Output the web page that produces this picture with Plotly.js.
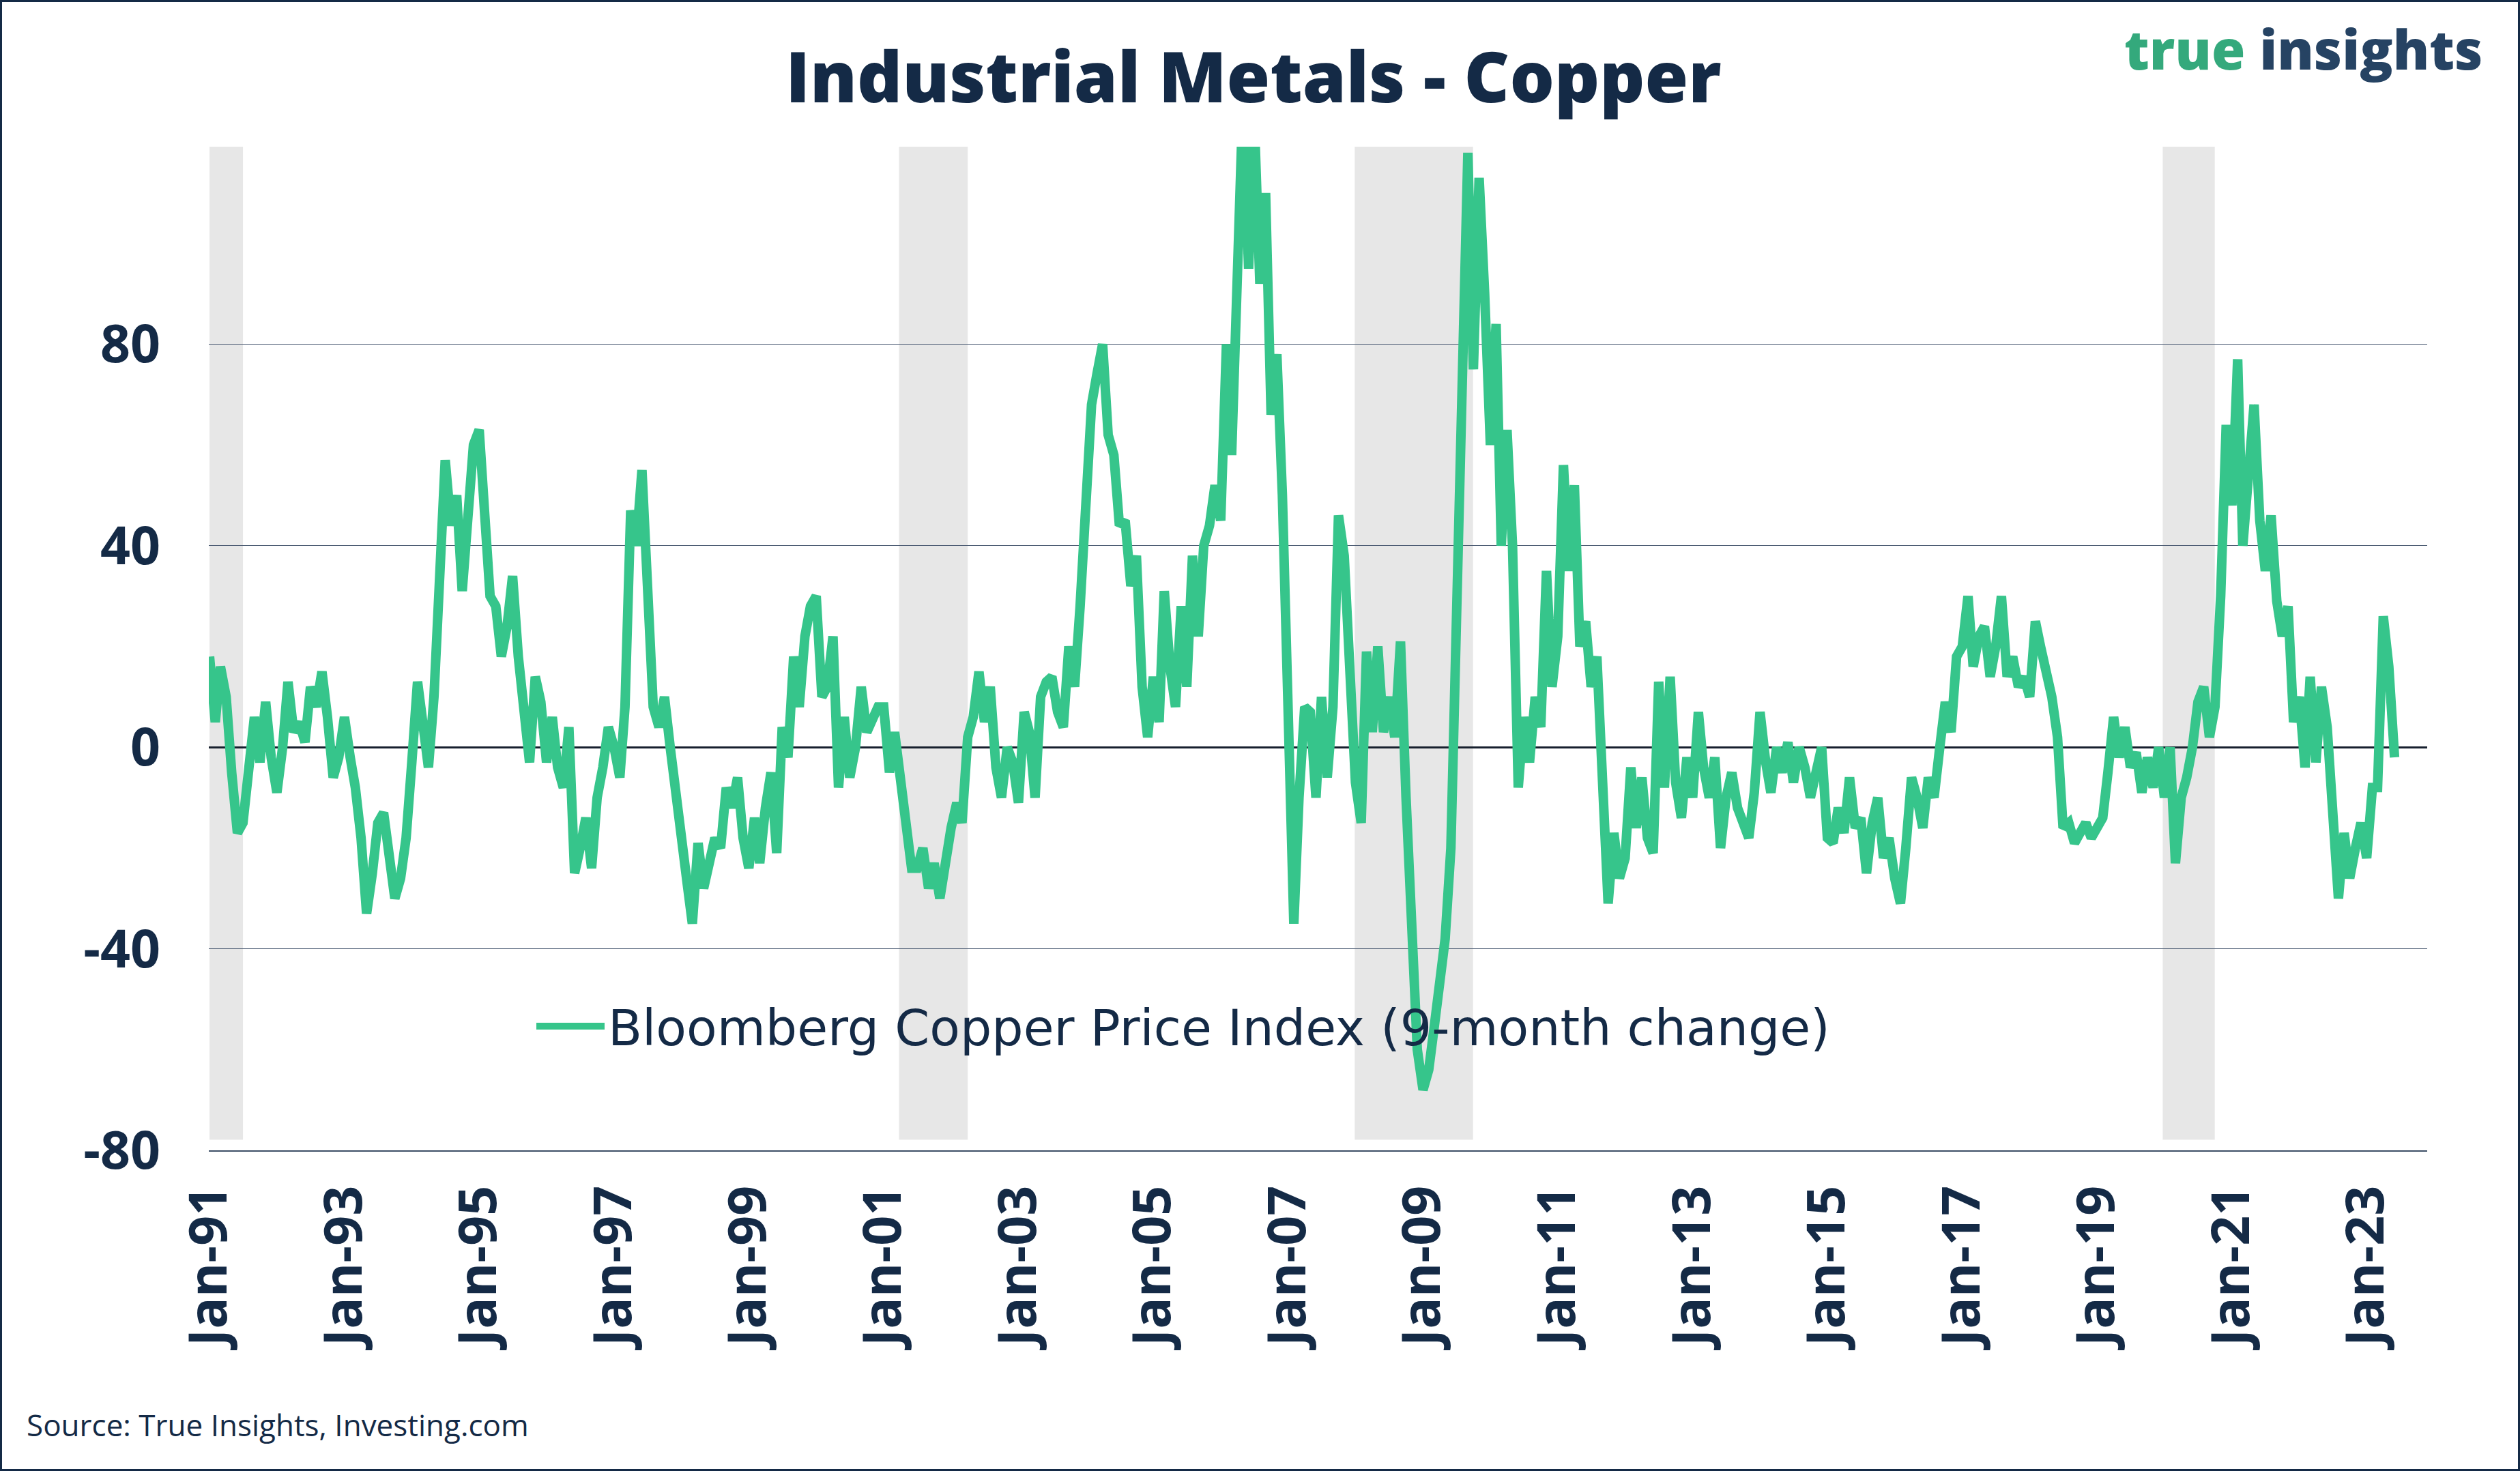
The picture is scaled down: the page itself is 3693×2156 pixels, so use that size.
<!DOCTYPE html>
<html>
<head>
<meta charset="utf-8">
<script src="https://cdn.plot.ly/plotly-3.0.1.min.js"></script>
<style>
html,body{margin:0;padding:0;background:#ffffff;}
#chart{width:3693px;height:2156px;}
</style>
</head>
<body>
<div id="chart"></div>
<script>
// Monthly readings of the 9-month % change, starting January 1991
const seriesStartYear = 1991;
const copper1991_1994 = [
  18, 5, 16, 10, -5, -17, -15, -6, 6, -3, 9, -2,
  -9, 0, 13, 3, 5, 1, 12, 8, 15, 6, -6, -2,
  6, -2, -8, -18, -33, -25, -15, -13, -22, -30, -26, -18,
  -3, 13, 5, -4, 10, 35, 57, 44, 50, 31, 47, 60
];
const copper1995_1998 = [
  63, 48, 30, 28, 18, 24, 34, 18, 8, -3, 14, 9,
  -3, 6, -4, -8, 4, -25, -20, -14, -24, -10, -4, 4,
  0, -6, 8, 47, 40, 55, 32, 8, 4, 10, 0, -10,
  -20, -27, -35, -19, -28, -22, -18, -20, -8, -12, -6, -18
];
const copper1999_2002 = [
  -24, -14, -23, -12, -5, -21, 4, -2, 18, 8, 22, 28,
  30, 10, 12, 22, -8, 6, -6, 0, 12, 3, 6, 8,
  8, -5, 3, -7, -14, -24, -24, -20, -28, -23, -30, -22,
  -16, -11, -15, 2, 6, 15, 5, 12, -4, -10, 0, -3
];
const copper2003_2006 = [
  -11, 7, 3, -10, 10, 13, 14, 7, 4, 20, 12, 28,
  52, 68, 74, 80, 62, 58, 44, 45, 32, 38, 12, 2,
  14, 5, 31, 16, 8, 28, 12, 38, 22, 40, 44, 52,
  45, 80, 58, 100, 128, 95, 126, 92, 110, 66, 78, 50
];
const copper2007_2010 = [
  5, -35, -10, 8, 7, -10, 10, -6, 8, 46, 38, 16,
  -7, -15, 19, 3, 20, 3, 10, 2, 21, -10, -40, -60,
  -68, -64, -56, -48, -38, -20, 30, 72, 118, 75, 113, 90,
  60, 84, 40, 63, 40, -8, 6, -3, 10, 4, 35, 12
];
const copper2011_2014 = [
  22, 56, 35, 52, 20, 25, 12, 18, -5, -31, -17, -26,
  -22, -4, -16, -6, -18, -21, 13, -8, 14, -7, -14, -2,
  -10, 7, -4, -10, -2, -20, -10, -5, -12, -15, -18, -9,
  7, -3, -9, 0, -5, 1, -7, 0, -4, -10, -4, 0
];
const copper2015_2018 = [
  -18, -19, -12, -17, -6, -16, -14, -25, -15, -10, -22, -18,
  -26, -31, -20, -6, -10, -16, -6, -10, 0, 9, 3, 18,
  20, 30, 16, 22, 24, 14, 20, 30, 14, 18, 12, 14,
  10, 25, 20, 15, 10, 2, -16, -15, -19, -17, -15, -18
];
const copper2019_2023 = [
  -16, -14, -5, 6, -2, 4, -4, -1, -9, -2, -8, 0,
  -10, 0, -23, -10, -6, 0, 9, 12, 2, 8, 30, 64,
  48, 77, 40, 55, 68, 45, 35, 46, 29, 22, 28, 5,
  10, -4, 14, -3, 12, 4, -10, -30, -17, -26, -20, -15,
  -22, -8, -8, 26, 16, -2
];

// Shaded recession periods
const recessionStart = ['1991-01-01', '2001-03-25', '2007-12-28', '2019-12-23'];
const recessionEnd   = ['1991-07-01', '2002-04-01', '2009-09-29', '2020-09-30'];

// Axis ticks
const xTickDates = ['1991-01-01','1993-01-01','1995-01-01','1997-01-01','1999-01-01','2001-01-01',
  '2003-01-01','2005-01-01','2007-01-01','2009-01-01','2011-01-01','2013-01-01','2015-01-01',
  '2017-01-01','2019-01-01','2021-01-01','2023-01-01'];
const xTickLabels = ['Jan-91','Jan-93','Jan-95','Jan-97','Jan-99','Jan-01','Jan-03','Jan-05',
  'Jan-07','Jan-09','Jan-11','Jan-13','Jan-15','Jan-17','Jan-19','Jan-21','Jan-23'];
const yTickVals = [-80, -40, 0, 40, 80];
const yTickLabels = ['-80', '-40', '0', '40', '80'];

const seriesName = 'Bloomberg Copper Price Index (9-month change)';
const chartTitle = 'Industrial Metals - Copper';
const sourceText = 'Source: True Insights, Investing.com';

const values = [].concat(copper1991_1994, copper1995_1998, copper1999_2002, copper2003_2006,
  copper2007_2010, copper2011_2014, copper2015_2018, copper2019_2023);
const dates = values.map((v, i) => {
  const y = seriesStartYear + Math.floor(i / 12);
  const m = (i % 12) + 1;
  return y + '-' + (m < 10 ? '0' + m : m) + '-01';
});

const W = 3693, H = 2156;
const M = {l: 306, r: 136, t: 215, b: 470};
const PW = W - M.l - M.r, PH = H - M.t - M.b;
const navy = '#142a46';
const green = '#36c58b';
const yTop = 119.2;

const shapes = recessionStart.map((s, i) => ({
  type: 'rect', xref: 'x', yref: 'y', x0: s, x1: recessionEnd[i], y0: -77.9, y1: yTop,
  fillcolor: '#e7e7e7', line: {width: 0}, layer: 'below'
}));
shapes.push({
  type: 'rect', xref: 'paper', yref: 'paper',
  x0: -M.l / PW, x1: 1 + M.r / PW, y0: -M.b / PH, y1: 1 + M.t / PH,
  line: {color: navy, width: 6}, fillcolor: 'rgba(0,0,0,0)', layer: 'above'
});

const trace = {
  type: 'scatter', mode: 'lines', x: dates, y: values, name: seriesName,
  line: {color: green, width: 14, shape: 'linear'}, showlegend: true
};

const tickFont = {family: 'Open Sans', size: 77, weight: 700, color: navy};

const layout = {
  width: W, height: H,
  margin: {l: M.l, r: M.r, t: M.t, b: M.b, pad: 0},
  paper_bgcolor: '#ffffff', plot_bgcolor: '#ffffff',
  title: {
    text: chartTitle,
    font: {family: 'Open Sans', size: 103, weight: 800, color: navy},
    xref: 'container', x: 0.4974, xanchor: 'center',
    yref: 'container', y: 1 - 114 / H, yanchor: 'middle'
  },
  xaxis: {
    type: 'date', range: ['1990-12-28', '2023-11-25'],
    tickmode: 'array', tickvals: xTickDates, ticktext: xTickLabels,
    tickangle: -90, tickfont: tickFont, ticks: '', ticklabelstandoff: 19,
    showgrid: false, zeroline: false, showline: true, linecolor: '#3d4e66', linewidth: 2
  },
  yaxis: {
    range: [-80, yTop], tickmode: 'array', tickvals: yTickVals, ticktext: yTickLabels,
    tickfont: tickFont, ticks: '', ticklabelstandoff: 70,
    showgrid: true, gridcolor: '#4b5b72', gridwidth: 1,
    zeroline: true, zerolinecolor: '#17202e', zerolinewidth: 3, showline: false
  },
  legend: {
    x: (781 - M.l) / PW, xanchor: 'left', y: (1686 - 1504) / PH, yanchor: 'middle',
    bgcolor: 'rgba(0,0,0,0)', borderwidth: 0,
    font: {family: 'DejaVu Sans', size: 73, color: navy}, itemwidth: 100
  },
  shapes: shapes,
  annotations: [
    {
      text: '<span style="color:#34a97c">true</span> <span style="color:#264363">insights</span>',
      xref: 'paper', yref: 'paper', x: (3640 - M.l) / PW, xanchor: 'right',
      y: (1686 - 70) / PH, yanchor: 'middle', showarrow: false,
      font: {family: 'Open Sans', size: 80, weight: 800, color: '#264363'}
    },
    {
      text: sourceText, xref: 'paper', yref: 'paper', x: (37 - M.l) / PW, xanchor: 'left',
      y: (1686 - 2088) / PH, yanchor: 'middle', showarrow: false,
      font: {family: 'Open Sans', size: 44, color: navy}
    }
  ]
};

Plotly.newPlot('chart', [trace], layout, {staticPlot: true, displayModeBar: false});
</script>
</body>
</html>
